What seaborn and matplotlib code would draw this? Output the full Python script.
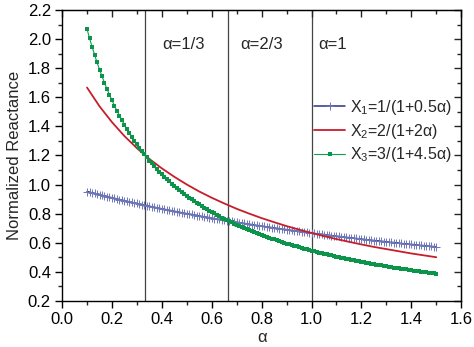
import numpy as np
import pandas as pd
import matplotlib
matplotlib.use("Agg")
import matplotlib.pyplot as plt
import seaborn as sns
from matplotlib.ticker import MultipleLocator

# ---- data ----
alpha_a = np.linspace(0.10, 1.50, 141)   # grid for X1 and X3 (step 0.01)
x1_vals = [0.952, 0.948, 0.943, 0.939, 0.935, 0.930, 0.926, 0.922, 0.917, 0.913,
           0.909, 0.905, 0.901, 0.897, 0.893, 0.889, 0.885, 0.881, 0.877, 0.873,
           0.870, 0.866, 0.862, 0.858, 0.855, 0.851, 0.847, 0.844, 0.840, 0.837,
           0.833, 0.830, 0.826, 0.823, 0.820, 0.816, 0.813, 0.810, 0.806, 0.803,
           0.800, 0.797, 0.794, 0.791, 0.787, 0.784, 0.781, 0.778, 0.775, 0.772,
           0.769, 0.766, 0.763, 0.760, 0.758, 0.755, 0.752, 0.749, 0.746, 0.743,
           0.741, 0.738, 0.735, 0.733, 0.730, 0.727, 0.725, 0.722, 0.719, 0.717,
           0.714, 0.712, 0.709, 0.707, 0.704, 0.702, 0.699, 0.697, 0.694, 0.692,
           0.690, 0.687, 0.685, 0.683, 0.680, 0.678, 0.676, 0.673, 0.671, 0.669,
           0.667, 0.664, 0.662, 0.660, 0.658, 0.656, 0.654, 0.651, 0.649, 0.647,
           0.645, 0.643, 0.641, 0.639, 0.637, 0.635, 0.633, 0.631, 0.629, 0.627,
           0.625, 0.623, 0.621, 0.619, 0.617, 0.615, 0.613, 0.612, 0.610, 0.608,
           0.606, 0.604, 0.602, 0.601, 0.599, 0.597, 0.595, 0.593, 0.592, 0.590,
           0.588, 0.587, 0.585, 0.583, 0.581, 0.580, 0.578, 0.576, 0.575, 0.573,
           0.571]
x3_vals = [2.069, 2.007, 1.948, 1.893, 1.840, 1.791, 1.744, 1.700, 1.657, 1.617,
           1.579, 1.542, 1.508, 1.474, 1.442, 1.412, 1.382, 1.354, 1.327, 1.302,
           1.277, 1.253, 1.230, 1.207, 1.186, 1.165, 1.145, 1.126, 1.107, 1.089,
           1.071, 1.054, 1.038, 1.022, 1.007, 0.992, 0.977, 0.963, 0.949, 0.936,
           0.923, 0.910, 0.898, 0.886, 0.875, 0.863, 0.852, 0.842, 0.831, 0.821,
           0.811, 0.801, 0.792, 0.782, 0.773, 0.764, 0.756, 0.747, 0.739, 0.731,
           0.723, 0.715, 0.708, 0.700, 0.693, 0.686, 0.679, 0.672, 0.665, 0.659,
           0.652, 0.646, 0.640, 0.634, 0.628, 0.622, 0.616, 0.610, 0.605, 0.599,
           0.594, 0.589, 0.584, 0.579, 0.574, 0.569, 0.564, 0.559, 0.555, 0.550,
           0.545, 0.541, 0.537, 0.532, 0.528, 0.524, 0.520, 0.516, 0.512, 0.508,
           0.504, 0.500, 0.497, 0.493, 0.489, 0.486, 0.482, 0.479, 0.475, 0.472,
           0.469, 0.465, 0.462, 0.459, 0.456, 0.453, 0.450, 0.447, 0.444, 0.441,
           0.438, 0.435, 0.432, 0.429, 0.427, 0.424, 0.421, 0.419, 0.416, 0.414,
           0.411, 0.408, 0.406, 0.403, 0.401, 0.399, 0.396, 0.394, 0.392, 0.389,
           0.387]
alpha_b = np.linspace(0.10, 1.50, 29)   # grid for X2 (step 0.05)
x2_vals = [1.667, 1.538, 1.429, 1.333, 1.250, 1.176, 1.111, 1.053, 1.000, 0.952,
           0.909, 0.870, 0.833, 0.800, 0.769, 0.741, 0.714, 0.690, 0.667, 0.645,
           0.625, 0.606, 0.588, 0.571, 0.556, 0.541, 0.526, 0.513, 0.500]
labels = ["X$_1$=1/(1+0.5α)", "X$_2$=2/(1+2α)", "X$_3$=3/(1+4.5α)"]
vlines = [1/3, 2/3, 1.0]
vline_texts = ["α=1/3", "α=2/3", "α=1"]
xticks = [0.0, 0.2, 0.4, 0.6, 0.8, 1.0, 1.2, 1.4, 1.6]
yticks = [0.2, 0.4, 0.6, 0.8, 1.0, 1.2, 1.4, 1.6, 1.8, 2.0, 2.2]

df_a = pd.DataFrame({"alpha": alpha_a, "X1": x1_vals, "X3": x3_vals})
df_b = pd.DataFrame({"alpha": alpha_b, "X2": x2_vals})

# ---- style ----
sns.set_style("ticks")
plt.rcParams["font.family"] = ["Liberation Sans", "DejaVu Sans"]
plt.rcParams["mathtext.fontset"] = "custom"
plt.rcParams["mathtext.rm"] = "Liberation Sans"
plt.rcParams["mathtext.it"] = "Liberation Sans:italic"

fig = plt.figure(figsize=(4.74, 3.47), dpi=100)
ax = fig.add_axes([0.131, 0.133, 0.842, 0.838])

sns.lineplot(data=df_a, x="alpha", y="X1", ax=ax, color="#2a3384", lw=1.1,
             marker="+", markersize=6, markeredgewidth=0.7,
             markeredgecolor="#6d76b8", label=labels[0])
sns.lineplot(data=df_b, x="alpha", y="X2", ax=ax, color="#c41f2b", lw=1.3,
             label=labels[1])
sns.lineplot(data=df_a, x="alpha", y="X3", ax=ax, color="#12a050", lw=0.8,
             marker="s", markersize=3.4, markeredgewidth=0,
             markerfacecolor="#0c944a", label=labels[2])

for v in vlines:
    ax.axvline(v, color="#444444", lw=0.9, zorder=0)

text_x = [0.40, 0.715, 1.025]
for tx, t in zip(text_x, vline_texts):
    ax.text(tx, 1.96, t, fontsize=12, va="center", ha="left")

ax.set_xlim(0.0, 1.6)
ax.set_ylim(0.2, 2.2)
ax.set_xticks(xticks)
ax.set_yticks(yticks)
ax.set_xticklabels([f"{t:.1f}" for t in xticks])
ax.set_yticklabels([f"{t:.1f}" for t in yticks])
ax.xaxis.set_minor_locator(MultipleLocator(0.1))
ax.yaxis.set_minor_locator(MultipleLocator(0.1))
ax.tick_params(which="major", direction="out", length=5, width=1,
               labelsize=12, colors="black", pad=3)
ax.tick_params(which="minor", direction="out", length=3, width=1)
for s in ax.spines.values():
    s.set_visible(True)
    s.set_linewidth(1.0)
    s.set_color("black")

top = ax.secondary_xaxis("top")
top.set_xticks(xticks)
top.xaxis.set_minor_locator(MultipleLocator(0.1))
top.tick_params(which="major", direction="in", length=5, width=1, labeltop=False)
top.tick_params(which="minor", direction="in", length=3, width=1)
right = ax.secondary_yaxis("right")
right.set_yticks(yticks)
right.yaxis.set_minor_locator(MultipleLocator(0.1))
right.tick_params(which="major", direction="in", length=5, width=1, labelright=False)
right.tick_params(which="minor", direction="in", length=3, width=1)

ax.set_xlabel("α", fontsize=12, labelpad=2)
ax.set_ylabel("Normalized Reactance", fontsize=12, labelpad=4)

leg = ax.legend(loc="upper left", bbox_to_anchor=(0.615, 0.72), frameon=False,
                fontsize=11.5, handlelength=1.95, handletextpad=0.3,
                labelspacing=0.3, borderaxespad=0)

fig.savefig("out.png", dpi=100)
